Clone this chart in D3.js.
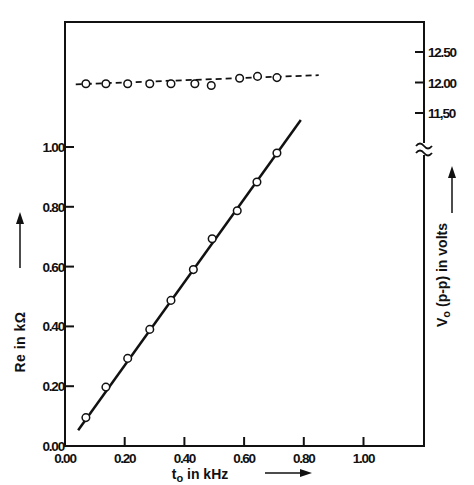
<!DOCTYPE html><html><head><meta charset="utf-8"><script src="https://cdn.jsdelivr.net/npm/d3@7"></script>
<style>body{margin:0;background:#fff}text{font-family:"Liberation Sans",Arial,sans-serif;font-weight:bold;fill:#111}</style></head><body>
<svg id="c" width="474" height="485"></svg>
<script>
const xTicks=[0,0.2,0.4,0.6,0.8,1.0];
const yTicks=[0,0.2,0.4,0.6,0.8,1.0];
const vTicks=[11.5,12.0,12.5];
const tR=[0.07,0.137,0.21,0.284,0.355,0.43,0.493,0.577,0.643,0.71];
const R=[0.095,0.197,0.293,0.39,0.487,0.59,0.693,0.787,0.883,0.98];
const fitR=[[0.044,0.053],[0.79,1.09]];
const tV=[0.07,0.137,0.21,0.284,0.355,0.435,0.49,0.585,0.645,0.71];
const V=[11.98,11.98,11.98,11.98,11.98,11.98,11.95,12.07,12.1,12.08];
const fitV=[[0.036,11.97],[0.85,12.12]];
const svg=d3.select("#c");
const L=65,Rt=424,T=22,B=446;
const x=d3.scaleLinear().domain([0,1.2]).range([L,L+6*59.7]);
const y=d3.scaleLinear().domain([0,1]).range([B,147]);
const v=d3.scaleLinear().domain([11.5,12.5]).range([113,52]);
svg.append("path").attr("d",`M${L},${T}H${Rt}V${B}H${L}Z`).attr("fill","none").attr("stroke","#111").attr("stroke-width",2);
xTicks.forEach(t=>{svg.append("line").attr("x1",x(t)).attr("x2",x(t)).attr("y1",B).attr("y2",B-9).attr("stroke","#111").attr("stroke-width",2);
 svg.append("text").attr("x",x(t)).attr("y",B+17).attr("text-anchor","middle").attr("font-size",13.5).attr("letter-spacing",-1.2).text(t.toFixed(2));});
yTicks.forEach(t=>{svg.append("line").attr("x1",L).attr("x2",L+9).attr("y1",y(t)).attr("y2",y(t)).attr("stroke","#111").attr("stroke-width",2);
 svg.append("text").attr("x",L-1).attr("y",y(t)+5).attr("text-anchor","end").attr("font-size",13.5).attr("letter-spacing",-1.2).text(t.toFixed(2));});
vTicks.forEach(t=>{svg.append("line").attr("x1",Rt-9).attr("x2",Rt).attr("y1",v(t)).attr("y2",v(t)).attr("stroke","#111").attr("stroke-width",2);
 svg.append("text").attr("x",Rt+4).attr("y",v(t)+5).attr("font-size",13.5).attr("letter-spacing",-1.2).text(t.toFixed(2).replace(/^11\.5/,"11,5"));});
svg.append("rect").attr("x",Rt-3).attr("y",143).attr("width",6).attr("height",12).attr("fill","#fff");
[144,151].forEach(yy=>svg.append("path").attr("d",`M${Rt-8},${yy+2}q4,-5 8,0t8,0`).attr("fill","none").attr("stroke","#111").attr("stroke-width",1.8));
const ln=d3.line();
svg.append("path").attr("d",ln(fitR.map(d=>[x(d[0]),y(d[1])]))).attr("stroke","#111").attr("stroke-width",2.5).attr("fill","none");
svg.append("path").attr("d",ln(fitV.map(d=>[x(d[0]),v(d[1])]))).attr("stroke","#111").attr("stroke-width",1.8).attr("stroke-dasharray","6,4").attr("fill","none");
tR.forEach((t,i)=>svg.append("circle").attr("cx",x(t)).attr("cy",y(R[i])).attr("r",3.8).attr("fill","#fff").attr("stroke","#111").attr("stroke-width",1.5));
tV.forEach((t,i)=>svg.append("circle").attr("cx",x(t)).attr("cy",v(V[i])).attr("r",3.8).attr("fill","#fff").attr("stroke","#111").attr("stroke-width",1.5));
const xl=svg.append("text").attr("x",200).attr("y",479).attr("text-anchor","middle").attr("font-size",14);
xl.append("tspan").text("t");xl.append("tspan").attr("font-size",11).attr("dy",3).text("o");xl.append("tspan").attr("dy",-3).text("  in  kHz");
svg.append("line").attr("x1",265).attr("x2",305).attr("y1",473).attr("y2",473).attr("stroke","#111").attr("stroke-width",1.5);
svg.append("path").attr("d","M312,473L300,469L300,477Z").attr("fill","#111");
svg.append("text").attr("transform","translate(25,342) rotate(-90)").attr("text-anchor","middle").attr("font-size",14).attr("letter-spacing",0.5).text("Re  in  kΩ");
svg.append("line").attr("x1",20).attr("x2",20).attr("y1",268).attr("y2",222).attr("stroke","#111").attr("stroke-width",1.5);
svg.append("path").attr("d","M20,212L16,224L24,224Z").attr("fill","#111");
const vl=svg.append("text").attr("transform","translate(447,275) rotate(-90)").attr("text-anchor","middle").attr("font-size",14);
vl.append("tspan").text("V");vl.append("tspan").attr("font-size",11).attr("dy",3).text("o");vl.append("tspan").attr("dy",-3).text(" (p-p) in volts");
svg.append("line").attr("x1",452).attr("x2",452).attr("y1",213).attr("y2",175).attr("stroke","#111").attr("stroke-width",1.5);
svg.append("path").attr("d","M452,166L448,178L456,178Z").attr("fill","#111");
</script></body></html>
